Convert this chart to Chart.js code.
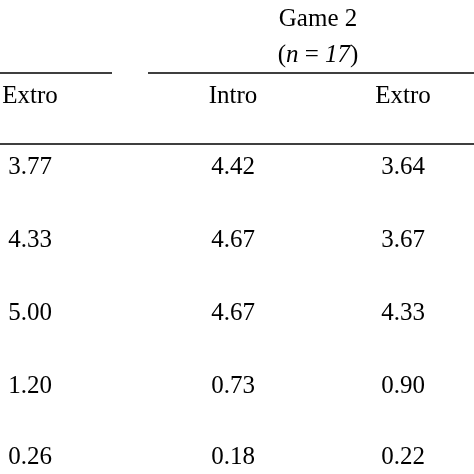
<!DOCTYPE html>
<html><head><meta charset="utf-8">
<script src="https://cdn.jsdelivr.net/npm/chart.js"></script>
<style>html,body{margin:0;padding:0;background:#fff}#w{width:474px;height:474px}</style>
</head><body><div id="w"><canvas id="c"></canvas></div>
<script>
const columns = ["Extro", "Intro", "Extro"];
const col1 = ["3.77", "4.33", "5.00", "1.20", "0.26"];
const col2 = ["4.42", "4.67", "4.67", "0.73", "0.18"];
const col3 = ["3.64", "3.67", "4.33", "0.90", "0.22"];
const groupTitle = "Game 2";
const groupN = "17";
const series = [col1, col2, col3];

const colX = [30, 233, 403];
const rowY = [167, 240, 313, 386, 457];

const tablePlugin = {
  id: 'table',
  afterDraw(chart) {
    const ctx = chart.ctx, xs = chart.scales.x, ys = chart.scales.y;
    ctx.save();
    ctx.fillStyle = '#000';
    ctx.strokeStyle = '#000';
    ctx.textAlign = 'center';
    ctx.textBaseline = 'middle';
    ctx.font = '25px "Liberation Serif", "Times New Roman", serif';
    const X = v => xs.getPixelForValue(v), Y = v => ys.getPixelForValue(v);
    ctx.fillText(groupTitle, X(318), Y(19));
    // (n = 17) with italics
    const parts = [['(', false], ['n', true], [' = ', false], [groupN, true], [')', false]];
    let total = 0;
    parts.forEach(p => { ctx.font = (p[1] ? 'italic ' : '') + '25px "Liberation Serif", serif'; total += ctx.measureText(p[0]).width; });
    let x = X(318) - total / 2;
    ctx.textAlign = 'left';
    parts.forEach(p => { ctx.font = (p[1] ? 'italic ' : '') + '25px "Liberation Serif", serif'; ctx.fillText(p[0], x, Y(55)); x += ctx.measureText(p[0]).width; });
    ctx.textAlign = 'center';
    ctx.font = '25px "Liberation Serif", serif';
    ctx.lineWidth = 1.5;
    ctx.beginPath();
    ctx.moveTo(X(0), Y(73)); ctx.lineTo(X(112), Y(73));
    ctx.moveTo(X(148), Y(73)); ctx.lineTo(X(474), Y(73));
    ctx.moveTo(X(0), Y(144)); ctx.lineTo(X(474), Y(144));
    ctx.stroke();
    columns.forEach((c, i) => ctx.fillText(c, X(colX[i]), Y(96)));
    series.forEach((s, i) => s.forEach((v, j) => ctx.fillText(v, X(colX[i]), Y(rowY[j]))));
    ctx.restore();
  }
};

new Chart(document.getElementById('c'), {
  type: 'scatter',
  data: { datasets: [{ data: [], pointRadius: 0 }] },
  options: {
    responsive: true, maintainAspectRatio: false, animation: false,
    layout: { padding: 0 },
    plugins: { legend: { display: false }, tooltip: { enabled: false } },
    scales: {
      x: { type: 'linear', min: 0, max: 474, display: false },
      y: { type: 'linear', min: 0, max: 474, reverse: true, display: false }
    }
  },
  plugins: [tablePlugin]
});
</script></body></html>
